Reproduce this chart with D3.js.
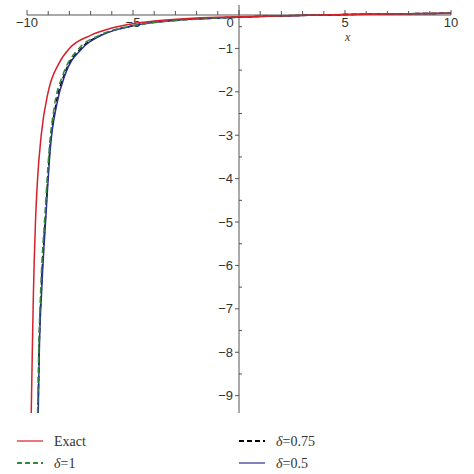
<!DOCTYPE html>
<html><head><meta charset="utf-8">
<script src="https://cdn.jsdelivr.net/npm/d3@7"></script>
<style>body{margin:0;background:#fff}</style>
</head><body>
<svg id="chart" width="474" height="474"></svg>
<script>
// curve points: [x, y]
const exact = [[-9.8,-9.4],[-9.75,-8],[-9.7,-6.7],[-9.6,-5],[-9.5,-4],[-9.33,-3],[-9,-2],[-8.5,-1.35],[-8,-1],[-7,-0.7],[-6,-0.53],[-5,-0.43],[-4,-0.37],[-2,-0.3],[0,-0.27],[5,-0.22],[10,-0.19]];
const delta1 = [[-9.5,-9.4],[-9.45,-8],[-9.35,-6.5],[-9.15,-4.8],[-8.95,-3.3],[-8.7,-2.3],[-8.3,-1.6],[-7.55,-1],[-6.6,-0.7],[-5.05,-0.48],[-3,-0.36],[-1,-0.3],[0,-0.28],[5,-0.22],[10,-0.19]];
const delta075 = [[-9.48,-9.4],[-9.43,-8],[-9.32,-6.5],[-9.12,-4.8],[-8.92,-3.3],[-8.64,-2.3],[-8.24,-1.6],[-7.45,-1],[-6.53,-0.7],[-5.02,-0.48],[-3,-0.35],[-1,-0.3],[0,-0.28],[5,-0.22],[10,-0.19]];
const delta05 = [[-9.47,-9.4],[-9.42,-8],[-9.3,-6.5],[-9.1,-4.8],[-8.9,-3.3],[-8.6,-2.3],[-8.2,-1.6],[-7.4,-1],[-6.5,-0.7],[-5,-0.48],[-3,-0.35],[-1,-0.3],[0,-0.28],[5,-0.22],[10,-0.19]];
const xTicks = [-10, -5, 0, 5, 10];
const yTicks = [-1, -2, -3, -4, -5, -6, -7, -8, -9];

const svg = d3.select('#chart');
const x = d3.scaleLinear().domain([-10, 10]).range([27, 451]);
const y = d3.scaleLinear().domain([-0.23, -9.4]).range([15, 413]);
const fmt = d => d < 0 ? '\u2212' + Math.abs(d) : String(d);

// horizontal axis along the top
const xAxis = svg.append('g').attr('transform', 'translate(0,' + y(-0.23) + ')');
xAxis.append('line').attr('x1', x(-10)).attr('x2', x(10)).attr('stroke', '#555');
xAxis.selectAll('.mt').data(d3.range(-10, 10.01, 1)).join('line')
    .attr('x1', d => x(d)).attr('x2', d => x(d)).attr('y1', 0).attr('y2', d => d % 5 === 0 ? -5 : -4)
    .attr('stroke', '#555');
xAxis.selectAll('text').data(xTicks).join('text')
    .attr('x', d => x(d) + (d === 0 ? -9 : 0)).attr('y', 12)
    .attr('text-anchor', 'middle').attr('font-family', 'Liberation Sans').attr('font-size', 13)
    .attr('fill', '#333').text(fmt);
svg.append('text').attr('x', 345).attr('y', 41).attr('font-family', 'Liberation Serif')
    .attr('font-style', 'italic').attr('font-size', 12).attr('fill', '#333').text('x');

// vertical axis at x = 0
const yAxis = svg.append('g').attr('transform', 'translate(' + x(0) + ',0)');
yAxis.append('line').attr('y1', 5).attr('y2', y(-9.4)).attr('stroke', '#555');
yAxis.selectAll('.mt').data(d3.range(-0.5, -9.41, -0.5)).join('line')
    .attr('y1', d => y(d)).attr('y2', d => y(d)).attr('x1', 0).attr('x2', d => Number.isInteger(d) ? -4 : 3)
    .attr('stroke', '#555');
yAxis.selectAll('text').data(yTicks).join('text')
    .attr('x', -6).attr('y', d => y(d) + 4.5).attr('text-anchor', 'end')
    .attr('font-family', 'Liberation Sans').attr('font-size', 13).attr('fill', '#333').text(fmt);

const line = d3.line().x(d => x(d[0])).y(d => y(d[1])).curve(d3.curveMonotoneX);
const series = [
  {data: delta075, color: '#000', dash: '5,3', name: '\u03b4=0.75'},
  {data: delta05, color: '#2b2f8f', dash: null, name: '\u03b4=0.5'},
  {data: delta1, color: '#2e8b3a', dash: '6,4', name: '\u03b4=1'},
  {data: exact, color: '#d4212b', dash: null, name: 'Exact'}
];
svg.selectAll('path.curve').data(series).join('path').attr('class', 'curve')
    .attr('d', d => line(d.data)).attr('fill', 'none').attr('stroke', d => d.color)
    .attr('stroke-width', 1.5).attr('stroke-dasharray', d => d.dash);

// legend
const legend = [
  {s: series[3], lx: 17, ly: 441}, {s: series[0], lx: 239, ly: 441},
  {s: series[2], lx: 17, ly: 463}, {s: series[1], lx: 239, ly: 463}
];
const lg = svg.selectAll('g.leg').data(legend).join('g').attr('class', 'leg')
    .attr('transform', d => 'translate(' + d.lx + ',' + d.ly + ')');
lg.append('line').attr('x1', 0).attr('x2', 26).attr('stroke', d => d.s.color)
    .attr('stroke-width', d => d.s.dash ? 2 : 1.2).attr('stroke-dasharray', d => d.s.dash ? '5,3' : null);
lg.append('text').attr('x', 37).attr('y', 5).attr('font-family', 'Liberation Serif')
    .attr('font-size', 14).attr('fill', '#333')
    .html(d => d.s.name.startsWith('\u03b4') ? '<tspan font-style="italic">\u03b4</tspan>' + d.s.name.slice(1) : d.s.name);
</script>
</body></html>
